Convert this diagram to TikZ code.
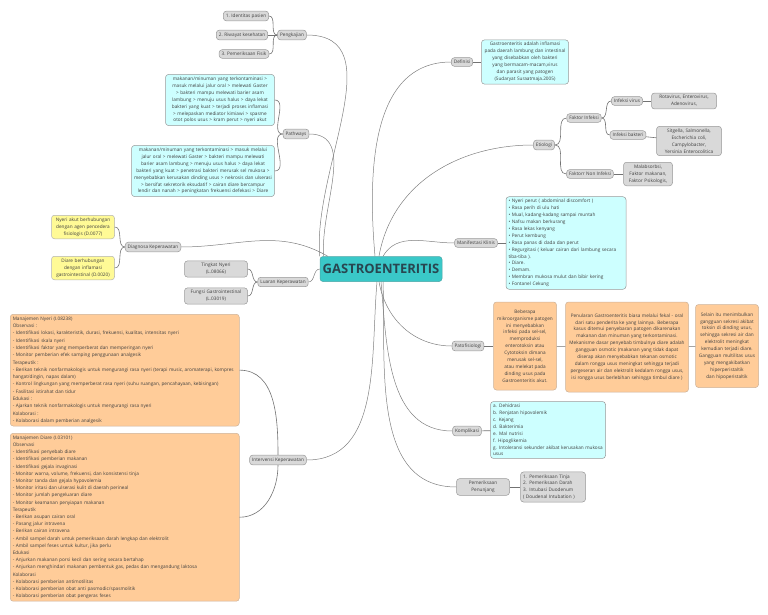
\documentclass[tikz,border=0pt]{standalone}
\usepackage{fontspec}
\setmainfont{Open Sans}
\definecolor{mainc}{RGB}{58,200,200}
\definecolor{maint}{RGB}{40,70,80}
\definecolor{cyb}{RGB}{205,255,255}
\definecolor{orb}{RGB}{255,204,153}
\definecolor{yeb}{RGB}{255,250,150}
\newcommand\myNoHy{\hyphenpenalty=10000 \exhyphenpenalty=10000 \relax}
\begin{document}
\begin{tikzpicture}[x=1pt,y=-1pt,
 base/.style={rounded corners=3pt,draw=black!40,line width=0.5pt,inner sep=2.5pt,font=\fontsize{4.7}{6.9}\selectfont\myNoHy,text=black!75},
 sub/.style={base,fill=black!15},
 cy/.style={base,fill=cyb},
 ora/.style={base,fill=orb,draw=orange!50!black!40},
 yel/.style={base,fill=yeb,draw=black!30},
 ed/.style={draw=black!50,line width=0.5pt},
 br/.style={draw=black!55,line width=0.6pt}]
\useasboundingbox (0,0) rectangle (768,615);
\node[base,fill=mainc,draw=teal!70,font=\bfseries\fontsize{13}{14}\selectfont,text=maint,minimum width=122,minimum height=25,inner sep=1pt] (c) at (381,269) {GASTROENTERITIS};

% Pengkajian
\node[sub] (peng) at (292,35) {Pengkajian};
\node[sub] (p1) at (246,16) {1. Identitas pasien};
\node[sub] (p2) at (242,35) {2. Riwayat kesehatan};
\node[sub] (p3) at (244,54) {3. Pemeriksaan Fisik};
\draw[br] (peng.west) to[out=180,in=0] (p1.east);
\draw[br] (peng.west) -- (p2.east);
\draw[br] (peng.west) to[out=180,in=0] (p3.east);

% Pathways
\node[sub] (path) at (296,134) {Pathways};
\node[cy,text width=104,align=center] (pw1) at (220,100) {makanan/minuman yang terkontaminasi > masuk melalui jalur oral > melewati Gaster > bakteri mampu melewati barier asam lambung > menuju usus halus > daya lekat bakteri yang kuat > terjadi proses inflamasi > melepaskan mediator kimiawi > spasme otot polos usus > kram perut > nyeri akut};
\node[cy,text width=138,align=center] (pw2) at (203,171) {makanan/minuman yang terkontaminasi > masuk melalui jalur oral > melewati Gaster > bakteri mampu melewati barier asam lambung > menuju usus halus > daya lekat bakteri yang kuat > penetrasi bakteri merusak sel mukosa > menyebabkan kerusakan dinding usus > nekrosis dan ulserasi > bersifat sekretorik eksudatif > cairan diare bercampur lendir dan nanah > peningkatan frekuensi defekasi > Diare};
\draw[br] (path.west) to[out=180,in=0] (pw1.east);
\draw[br] (path.west) to[out=180,in=0] (pw2.east);

% Diagnosa
\node[sub] (dk) at (153,247) {Diagnosa Keperawatan};
\node[yel,text width=58,align=center] (d1) at (83,227) {Nyeri akut berhubungan dengan agen pencedera fisiologis (D.0077)};
\node[yel,text width=58,align=center] (d2) at (83,268) {Diare berhubungan dengan inflamasi gastrointestinal (D.0020)};
\draw[br] (dk.west) to[out=180,in=0] (d1.east);
\draw[br] (dk.west) to[out=180,in=0] (d2.east);

% Luaran
\node[sub] (lk) at (283,282) {Luaran Keperawatan};
\node[sub,text width=58,align=center] (l1) at (216,269) {Tingkat Nyeri\\(L.08066)};
\node[sub,text width=58,align=center] (l2) at (216,296) {Fungsi Gastrointestinal\\(L.03019)};
\draw[br] (lk.west) to[out=180,in=0] (l1.east);
\draw[br] (lk.west) to[out=180,in=0] (l2.east);

% Intervensi
\node[sub] (ik) at (278,460) {Intervensi Keperawatan};
\node[ora,text width=224,align=left,anchor=north west,font=\fontsize{4.7}{7.3}\selectfont] (i1) at (10,314) {Manajemen Nyeri (I.08238)\\Observasi :\\- Identifikasi lokasi, karakteristik, durasi, frekuensi, kualitas, intensitas nyeri\\- Identifikasi skala nyeri\\- Identifikasi faktor yang memperberat dan memperingan nyeri\\- Monitor pemberian efek samping penggunaan analgesik\\Terapeutik :\\- Berikan teknik nonfarmakologis untuk mengurangi rasa nyeri (terapi music, aromaterapi, kompres hangat/dingin, napas dalam)\\- Kontrol lingkungan yang memperberat rasa nyeri (suhu ruangan, pencahayaan, kebisingan)\\- Fasilitasi istirahat dan tidur\\Edukasi :\\- Ajarkan teknik nonfarmakologis untuk mengurangi rasa nyeri\\Kolaborasi :\\- Kolaborasi dalam pemberian analgesik};
\node[ora,text width=224,align=left,anchor=north west,font=\fontsize{4.7}{7.2}\selectfont] (i2) at (10,433) {Manajemen Diare (I.03101)\\Observasi\\- Identifikasi penyebab diare\\- Identifikasi pemberian makanan\\- Identifikasi gejala invaginasi\\- Monitor warna, volume, frekuensi, dan konsistensi tinja\\- Monitor tanda dan gejala hypovolemia\\- Monitor iritasi dan ulserasi kulit di daerah perineal\\- Monitor jumlah pengeluaran diare\\- Monitor keamanan penyiapan makanan\\Terapeutik\\- Berikan asupan cairan oral\\- Pasang jalur intravena\\- Berikan cairan intravena\\- Ambil sampel darah untuk pemeriksaan darah lengkap dan elektrolit\\- Ambil sampel feses untuk kultur, jika perlu\\Edukasi\\- Anjurkan makanan porsi kecil dan sering secara bertahap\\- Anjurkan menghindari makanan pembentuk gas, pedas dan mengandung laktosa\\Kolaborasi\\- Kolaborasi pemberian antimotilitas\\- Kolaborasi pemberian obat anti pasmodic/spasmolitik\\- Kolaborasi pemberian obat pengeras feses};
\draw[br] (ik.north) to[out=90,in=0] (i1.east);
\draw[br] (ik.south) to[out=-90,in=0] (i2.east);

% Definisi
\node[sub] (def) at (462,62) {Definisi};
\node[cy,text width=82,align=center] (dft) at (525,62) {Gastroenteritis adalah inflamasi pada daerah lambung dan intestinal yang disebabkan oleh bakteri yang bermacam-macam,virus dan parasit yang patogen (Sudaryat Suraatmaja.2005)};
\draw[br] (def) -- (dft);

% Etiologi
\node[sub] (eti) at (544,145) {Etiologi};
\node[sub] (fi) at (584,118) {Faktor Infeksi};
\node[sub] (iv) at (627,101) {Infeksi virus};
\node[sub,text width=60,align=center] (ivt) at (684,101) {Rotavirus, Enterovirus, Adenovirus,};
\node[sub] (ib) at (628,135) {Infeksi bakteri};
\node[sub,text width=60,align=center] (ibt) at (689,141) {Sitgella, Salmonella, Escherichia coli, Campylobacter, Yersinia Enterocolitica};
\node[sub] (fn) at (590,174) {Faktorr Non Infeksi};
\node[sub,text width=44,align=center] (fnt) at (648,174) {Malabsorbsi, Faktor makanan, Faktor Psikologis,};
\draw[br] (eti.east) to[out=0,in=180] (fi.west);
\draw[br] (eti.east) to[out=0,in=180] (fn.west);
\draw[br] (fi.east) to[out=0,in=180] (iv.west);
\draw[br] (fi.east) to[out=0,in=180] (ib.west);
\draw[br] (iv) -- (ivt);
\draw[br] (ib) -- (ibt);
\draw[br] (fn) -- (fnt);

% Manifestasi
\node[sub] (mk) at (476,243) {Manifestasi Klinis};
\node[cy,text width=115,align=left] (mkt) at (566,243) {• Nyeri perut ( abdominal discomfort )\\• Rasa perih di ulu hati\\• Mual, kadang-kadang sampai muntah\\• Nafsu makan berkurang\\• Rasa lekas kenyang\\• Perut kembung\\• Rasa panas di dada dan perut\\• Regurgitasi ( keluar cairan dari lambung secara tiba-tiba ).\\• Diare.\\• Demam.\\• Membran mukosa mulut dan bibir kering\\• Fontanel Cekung};
\draw[br] (mk) -- (mkt);

% Patofisiologi
\node[sub] (pf) at (468,346) {Patofisiologi};
\node[ora,text width=58,align=center,minimum height=88] (pf1) at (525,346) {Beberapa mikroorganisme patogen ini menyebabkan infeksi pada sel-sel, memproduksi enterotoksin atau Cytotoksin dimana merusak sel-sel, atau melekat pada dinding usus pada Gastroenteritis akut.};
\node[ora,text width=118,align=center,minimum height=90] (pf2) at (627,347) {Penularan Gastroenteritis biasa melalui fekal - oral dari satu penderita ke yang lainnya. Beberapa kasus ditemui penyebaran patogen dikarenakan makanan dan minuman yang terkontaminasi.\\Mekanisme dasar penyebab timbulnya diare adalah gangguan osmotic (makanan yang tidak dapat diserap akan menyebabkan tekanan osmotic dalam rongga usus meningkat sehingga terjadi pergeseran air dan elektrolit kedalam rongga usus, isi rongga usus berlebihan sehingga timbul diare )};
\node[ora,text width=58,align=center,minimum height=83] (pf3) at (727,346) {Selain itu menimbulkan gangguan sekresi akibat toksin di dinding usus, sehingga sekresi air dan elektrolit meningkat kemudian terjadi diare. Gangguan multilitas usus yang mengakibatkan hiperperistaltik dan hipoperistaltik};
\draw[br] (pf) -- (pf1);
\draw[br] (pf1) -- (pf2);
\draw[br] (pf2) -- (pf3);

% Komplikasi
\node[sub] (kom) at (467,431) {Komplikasi};
\node[cy,text width=110,align=left] (komt) at (548,430) {a. Dehidrasi\\b. Renjatan hipovolemik\\c. Kejang\\d. Bakterimia\\e. Mal nutrisi\\f. Hipoglikemia\\g. Intoleransi sekunder akibat kerusakan mukosa usus};
\draw[br] (kom) -- (komt);

% Penunjang
\node[sub,text width=48,align=center] (pp) at (483,487) {Pemeriksaan Penunjang};
\node[sub,text width=60,align=left] (ppt) at (553,487) {1. Pemeriksaan Tinja\\2. Pemeriksaan Darah\\3. Intubasi Duodenum\\ ( Doudenal Intubation )};
\draw[br] (pp) -- (ppt);

% main connectors
\draw[ed] (c.north west) to[out=95,in=0] (peng.east);
\draw[ed] ([xshift=4pt]c.north west) to[out=95,in=0] (path.east);
\draw[ed] ([xshift=8pt]c.north west) to[out=150,in=0] (dk.east);
\draw[ed] (c.west) to[out=180,in=0] (lk.east);
\draw[ed] ([xshift=-4pt]c.south) to[out=-95,in=0] (ik.east);
\draw[ed] ([xshift=-6pt]c.north) to[out=95,in=180] (def.west);
\draw[ed] ([xshift=-2pt]c.north) to[out=80,in=180] (eti.west);
\draw[ed] ([xshift=2pt]c.north) to[out=60,in=180] (mk.west);
\draw[ed] ([xshift=-2pt]c.south) to[out=-80,in=180] (pf.west);
\draw[ed] (c.south) to[out=-85,in=180] (kom.west);
\draw[ed] ([xshift=2pt]c.south) to[out=-88,in=180] (pp.west);
\end{tikzpicture}
\end{document}
